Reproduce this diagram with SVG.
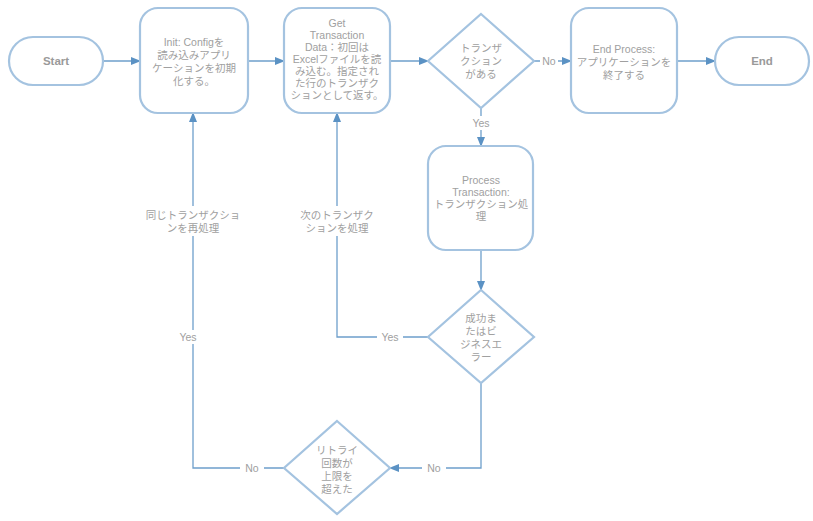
<svg xmlns="http://www.w3.org/2000/svg" width="813" height="521" viewBox="0 0 813 521">
<style>
.n{fill:#fff;stroke:#a4c3e0;stroke-width:2.2}
.t{font-family:"Liberation Sans","Noto Sans CJK JP",sans-serif;font-size:10.5px;fill:#a0a0a0;text-anchor:middle}
.b{font-weight:bold;font-size:11.5px;fill:#9a9a9a}
.c{fill:none;stroke:#6e9fcb;stroke-width:1.3}
.lb{fill:#fff}
</style>
<defs><marker id="a" markerWidth="10" markerHeight="8" refX="9" refY="4" orient="auto" markerUnits="userSpaceOnUse"><path d="M0,0L10,4L0,8z" fill="#5b92c4"/></marker></defs>
<g id="connectors">
<path class="c" d="M103,61H140" marker-end="url(#a)"/>
<path class="c" d="M248,61H284" marker-end="url(#a)"/>
<path class="c" d="M390,61H428" marker-end="url(#a)"/>
<path class="c" d="M534,61H571" marker-end="url(#a)"/>
<path class="c" d="M677,61H715" marker-end="url(#a)"/>
<path class="c" d="M481,108V146" marker-end="url(#a)"/>
<path class="c" d="M481,250V290" marker-end="url(#a)"/>
<path class="c" d="M428,337H337V113" marker-end="url(#a)"/>
<path class="c" d="M481,383V468H390" marker-end="url(#a)"/>
<path class="c" d="M284,468H193V113" marker-end="url(#a)"/>
<rect class="lb" x="540" y="54" width="18" height="14"/><text class="t" x="549" y="65">No</text>
<rect class="lb" x="469" y="116" width="24" height="14"/><text class="t" x="481" y="127">Yes</text>
<rect class="lb" x="377" y="330" width="26" height="14"/><text class="t" x="390" y="341">Yes</text>
<rect class="lb" x="422" y="461" width="24" height="14"/><text class="t" x="434" y="472">No</text>
<rect class="lb" x="240" y="461" width="24" height="14"/><text class="t" x="252" y="472">No</text>
<rect class="lb" x="175" y="330" width="26" height="14"/><text class="t" x="188" y="341">Yes</text>
<rect class="lb" x="297" y="206" width="80" height="30"/><text class="t" x="337" y="219">次のトランザク</text><text class="t" x="337" y="232">ションを処理</text>
<rect class="lb" x="152" y="206" width="82" height="30"/><text class="t" x="193" y="219">同じトランザクショ</text><text class="t" x="193" y="232">ンを再処理</text>
</g>
<g id="start"><rect class="n" x="9" y="37" width="94" height="48" rx="24"/><text class="t b" x="56" y="65">Start</text></g>
<g id="init"><rect class="n" x="140" y="8" width="108" height="105" rx="18"/><text class="t" x="194" y="46">Init: Configを</text><text class="t" x="194" y="59">読み込みアプリ</text><text class="t" x="194" y="72">ケーションを初期</text><text class="t" x="194" y="85">化する。</text></g>
<g id="get"><rect class="n" x="284" y="8" width="106" height="105" rx="18"/><text class="t" x="337" y="27">Get</text><text class="t" x="337" y="39">Transaction</text><text class="t" x="337" y="51">Data：初回は</text><text class="t" x="337" y="63">Excelファイルを読</text><text class="t" x="337" y="75">み込む。指定され</text><text class="t" x="337" y="87">た行のトランザク</text><text class="t" x="337" y="99">ションとして返す。</text></g>
<g id="d1"><path class="n" d="M481,14L534,61L481,108L428,61z"/><text class="t" x="481" y="52">トランザ</text><text class="t" x="481" y="65">クション</text><text class="t" x="481" y="78">がある</text></g>
<g id="endproc"><rect class="n" x="571" y="8" width="106" height="105" rx="18"/><text class="t" x="624" y="53">End Process:</text><text class="t" x="624" y="66">アプリケーションを</text><text class="t" x="624" y="79">終了する</text></g>
<g id="end"><rect class="n" x="715" y="37" width="94" height="48" rx="24"/><text class="t b" x="762" y="65">End</text></g>
<g id="process"><rect class="n" x="428" y="146" width="105" height="104" rx="18"/><text class="t" x="481" y="184">Process</text><text class="t" x="481" y="196">Transaction:</text><text class="t" x="481" y="208">トランザクション処</text><text class="t" x="481" y="220">理</text></g>
<g id="d2"><path class="n" d="M481,290L534,337L481,383L428,337z"/><text class="t" x="481" y="322">成功ま</text><text class="t" x="481" y="335">たはビ</text><text class="t" x="481" y="348">ジネスエ</text><text class="t" x="481" y="361">ラー</text></g>
<g id="d3"><path class="n" d="M337,421L390,468L337,514L284,468z"/><text class="t" x="337" y="454">リトライ</text><text class="t" x="337" y="467">回数が</text><text class="t" x="337" y="480">上限を</text><text class="t" x="337" y="493">超えた</text></g>
</svg>
